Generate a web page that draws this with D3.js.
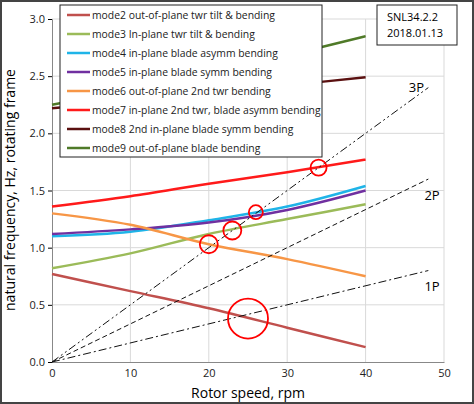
<!DOCTYPE html>
<html><head><meta charset="utf-8">
<script src="https://cdn.jsdelivr.net/npm/d3@7"></script>
<style>body{margin:0;background:#fff;font-family:"Open Sans",sans-serif;}</style>
</head><body><svg id="c" width="474" height="404"></svg>
<script>
const rpm = [0, 10, 20, 30, 40];
const modeNames = [
  "mode2 out-of-plane twr tilt & bending",
  "mode3 In-plane twr tilt & bending",
  "mode4 in-plane blade asymm bending",
  "mode5 in-plane blade symm bending",
  "mode6 out-of-plane 2nd twr bending",
  "mode7 in-plane 2nd twr, blade asymm bending",
  "mode8 2nd in-plane blade symm bending",
  "mode9 out-of-plane blade bending"
];
const modeColors = ["#c0504d", "#9bbb59", "#1fb4e8", "#7030a0", "#f79646", "#ff1a1a", "#5a1010", "#4f7a28"];
const mode2 = [0.77, 0.62, 0.47, 0.30, 0.13];
const mode3 = [0.82, 0.95, 1.12, 1.25, 1.38];
const mode4 = [1.10, 1.14, 1.24, 1.36, 1.54];
const mode5 = [1.12, 1.16, 1.22, 1.33, 1.50];
const mode6 = [1.30, 1.20, 1.03, 0.90, 0.75];
const mode7 = [1.36, 1.45, 1.56, 1.66, 1.77];
const mode8 = [2.22, 2.28, 2.35, 2.42, 2.49];
const mode9 = [2.25, 2.38, 2.52, 2.68, 2.85];
const modes = [mode2, mode3, mode4, mode5, mode6, mode7, mode8, mode9];
const harmonics = [{name: "1P", n: 1, dash: "8,3,2,3"}, {name: "2P", n: 2, dash: "5,3"}, {name: "3P", n: 3, dash: "8,3,2,3,2,3"}];
const circles = [[34, 1.70, 8], [20, 1.03, 9], [23, 1.15, 9], [26, 1.31, 7], [25, 0.38, 20]];

const svg = d3.select("#c");
const x = d3.scaleLinear().domain([0, 50]).range([52, 444]);
const y = d3.scaleLinear().domain([0, 3]).range([362, 19]);

svg.append("rect").attr("x", 1).attr("y", 1).attr("width", 472).attr("height", 402)
  .attr("fill", "#fff").attr("stroke", "#444").attr("stroke-width", 2);

const g = svg.append("g");
g.selectAll(".gx").data(d3.range(10, 51, 10)).join("line")
  .attr("x1", d => x(d)).attr("x2", d => x(d)).attr("y1", y(0)).attr("y2", y(3))
  .attr("stroke", "#d9d9d9");
g.selectAll(".gy").data(d3.range(0.5, 3.01, 0.5)).join("line")
  .attr("x1", x(0)).attr("x2", x(50)).attr("y1", d => y(d)).attr("y2", d => y(d))
  .attr("stroke", "#d9d9d9");

const xa = svg.append("g").attr("transform", `translate(0,${y(0)})`)
  .call(d3.axisBottom(x).ticks(5).tickSize(0).tickPadding(7));
xa.select(".domain").attr("stroke", "#888");
const ya = svg.append("g").attr("transform", `translate(${x(0)},0)`)
  .call(d3.axisLeft(y).tickValues(d3.range(0, 3.01, 0.5)).tickFormat(d3.format(".1f")).tickSize(4).tickPadding(3));
ya.select(".domain").attr("stroke", "#888");
svg.selectAll(".tick text").attr("font-size", 11).attr("fill", "#222").attr("font-family", "Open Sans");

svg.append("text").attr("x", 248).attr("y", 398).attr("text-anchor", "middle")
  .attr("font-size", 14).text("Rotor speed, rpm");
svg.append("text").attr("transform", "translate(15,190) rotate(-90)").attr("text-anchor", "middle")
  .attr("font-size", 14).text("natural frequency, Hz, rotating frame");

const line = d3.line().x((d, i) => x(rpm[i])).y(d => y(d)).curve(d3.curveMonotoneX);
modes.forEach((m, i) => {
  svg.append("path").attr("d", line(m)).attr("fill", "none")
    .attr("stroke", modeColors[i]).attr("stroke-width", 2.5);
});

harmonics.forEach(h => {
  const end = 48;
  svg.append("line").attr("x1", x(0)).attr("y1", y(0)).attr("x2", x(end)).attr("y2", y(end * h.n / 60))
    .attr("stroke", "#111").attr("stroke-width", 1).attr("stroke-dasharray", h.dash);
});
svg.append("text").attr("x", x(47.5)).attr("y", y(0.62)).attr("font-size", 13).text("1P");
svg.append("text").attr("x", x(47.5)).attr("y", y(1.42)).attr("font-size", 13).text("2P");
svg.append("text").attr("x", x(45.5)).attr("y", y(2.36)).attr("font-size", 13).text("3P");

svg.selectAll(".cir").data(circles).join("circle")
  .attr("cx", d => x(d[0])).attr("cy", d => y(d[1])).attr("r", d => d[2])
  .attr("fill", "none").attr("stroke", "#ff0000").attr("stroke-width", 1.8);

const lg = svg.append("g");
lg.append("rect").attr("x", 60).attr("y", 5).attr("width", 262).attr("height", 152)
  .attr("fill", "#fff").attr("stroke", "#222").attr("stroke-width", 1);
modeNames.forEach((n, i) => {
  const yy = 15 + i * 19;
  lg.append("line").attr("x1", 67).attr("x2", 90).attr("y1", yy).attr("y2", yy)
    .attr("stroke", modeColors[i]).attr("stroke-width", 2.5);
  lg.append("text").attr("x", 92).attr("y", yy + 4).attr("font-size", 10.4).attr("fill", "#222").text(n);
});

svg.append("rect").attr("x", 377).attr("y", 5).attr("width", 80).attr("height", 40)
  .attr("fill", "#fff").attr("stroke", "#222");
svg.append("text").attr("x", 387).attr("y", 21).attr("font-size", 11).text("SNL34.2.2");
svg.append("text").attr("x", 387).attr("y", 37).attr("font-size", 11).text("2018.01.13");
</script></body></html>
